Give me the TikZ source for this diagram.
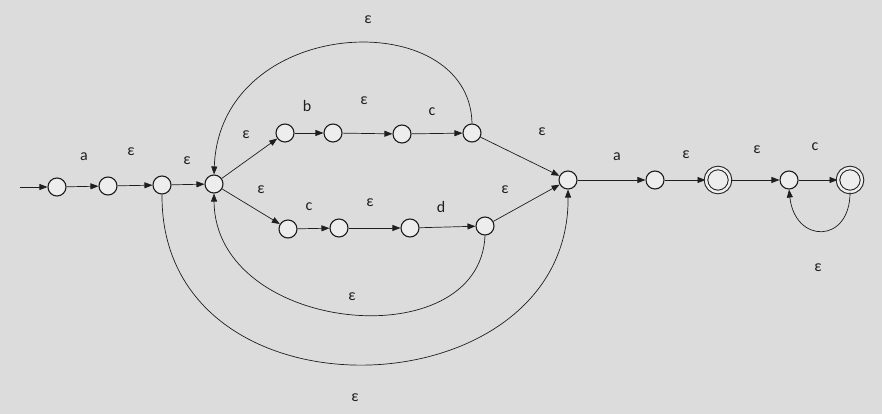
\documentclass[tikz,border=0pt]{standalone}
\usepackage{fontspec}
\setmainfont{Carlito}
\usetikzlibrary{arrows.meta}
\definecolor{bg}{HTML}{DCDCDC}
\definecolor{ink}{HTML}{1E1E1E}
\tikzset{
  st/.style={circle,draw=ink,line width=1.1pt,minimum size=18pt,inner sep=0pt,fill=bg!50!white},
  acc/.style={st,minimum size=24pt,double=bg!50!white,double distance=2.5pt,line width=1pt},
  tr/.style={draw=ink,line width=0.7pt,-{Triangle[length=8pt,width=6pt]}},
  lab/.style={font=\fontsize{16}{16}\selectfont,text=ink,inner sep=0pt}
}
\begin{document}
\begin{tikzpicture}[x=1pt,y=1pt]
\fill[bg] (0,0) rectangle (882,414);
\useasboundingbox (0,0) rectangle (882,414);
% states
\node[st] (n0) at (57,227) {};
\node[st] (n1) at (108,228) {};
\node[st] (n2) at (162,229) {};
\node[st] (n3) at (214,230) {};
\node[st] (u1) at (285,281) {};
\node[st] (u2) at (333,281) {};
\node[st] (u3) at (402,280) {};
\node[st] (u4) at (472,281) {};
\node[st] (l1) at (288,185) {};
\node[st] (l2) at (339,186) {};
\node[st] (l3) at (410,186) {};
\node[st] (l4) at (485,188) {};
\node[st] (n4) at (568,234) {};
\node[st] (n5) at (655,234) {};
\node[acc] (n6) at (718,234) {};
\node[st] (n7) at (789,234) {};
\node[acc] (n8) at (850,234) {};
\coordinate (start) at (20,227);
% transitions
\draw[tr] (start) -- (n0);
\draw[tr] (n0) -- (n1);
\draw[tr] (n1) -- (n2);
\draw[tr] (n2) -- (n3);
\draw[tr] (n3) -- (u1);
\draw[tr] (u1) -- (u2);
\draw[tr] (u2) -- (u3);
\draw[tr] (u3) -- (u4);
\draw[tr] (n3) -- (l1);
\draw[tr] (l1) -- (l2);
\draw[tr] (l2) -- (l3);
\draw[tr] (l3) -- (l4);
\draw[tr] (u4) -- (n4);
\draw[tr] (l4) -- (n4);
\draw[tr] (n4) -- (n5);
\draw[tr] (n5) -- (n6);
\draw[tr] (n6) -- (n7);
\draw[tr] (n7) -- (n8);
\draw[tr] (u4.north) .. controls (470,410) and (220,400) .. (n3.north);
\draw[tr] (l4.south) .. controls (480,55) and (215,80) .. (n3.south);
\draw[tr] (n2.south) .. controls (160,-15) and (570,0) .. (n4.south);
\draw[tr] (n8.south) .. controls (850,170) and (795,170) .. (n7.south);
% labels
\node[lab] (t1) at (84,257) {a};
\node[lab] (t2) at (131,262) {ε};
\node[lab] (t3) at (187,253) {ε};
\node[lab] (t4) at (246,279) {ε};
\node[lab] (t5) at (261,224) {ε};
\node[lab] (t6) at (307,308) {b};
\node[lab] (t7) at (364,313) {ε};
\node[lab] (t8) at (432,302) {c};
\node[lab] (t9) at (309,207) {c};
\node[lab] (t10) at (370,211) {ε};
\node[lab] (t11) at (441,207) {d};
\node[lab] (t12) at (368,394) {ε};
\node[lab] (t13) at (352,117) {ε};
\node[lab] (t14) at (355,16) {ε};
\node[lab] (t15) at (542,282) {ε};
\node[lab] (t16) at (505,224) {ε};
\node[lab] (t17) at (617,257) {a};
\node[lab] (t18) at (686,259) {ε};
\node[lab] (t19) at (757,264) {ε};
\node[lab] (t20) at (815,267) {c};
\node[lab] (t21) at (818,146) {ε};
\end{tikzpicture}
\end{document}
